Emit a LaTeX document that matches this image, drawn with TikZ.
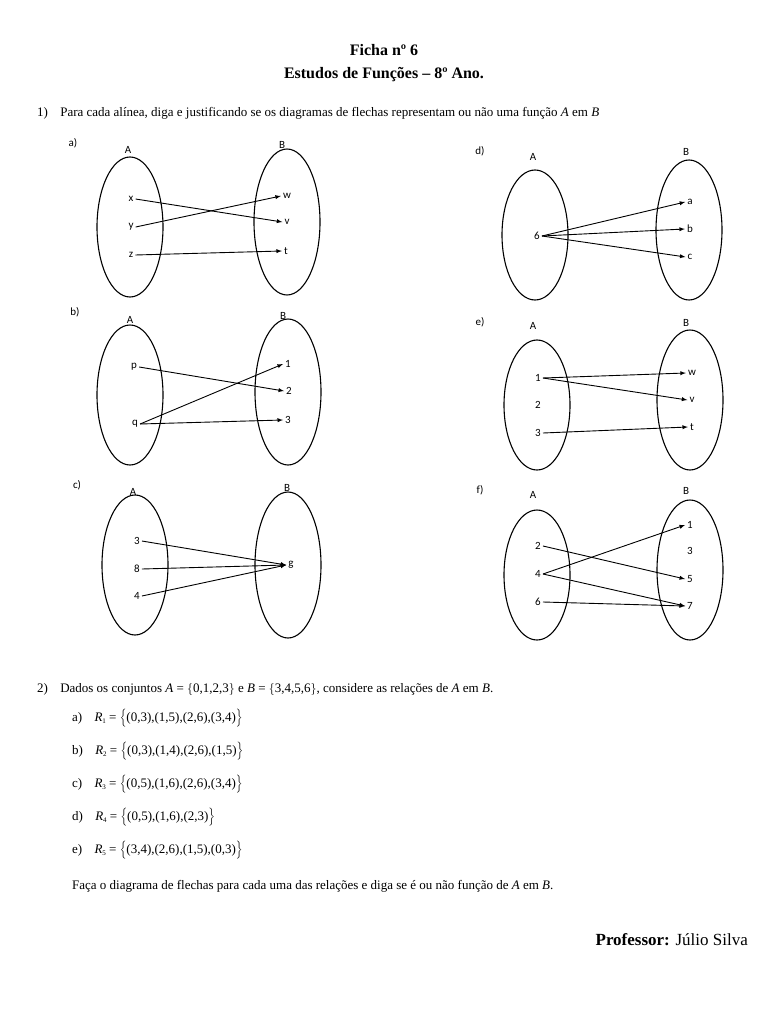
\documentclass[tikz,border=0pt]{standalone}
\usepackage{fontspec}
\setmainfont{Liberation Serif}
\newfontfamily\calfont{Carlito}
\begin{document}
\begin{tikzpicture}[x=1pt,y=-1pt,
  lab/.style={font=\calfont\fontsize{11}{12}\selectfont,inner sep=1pt},
  el/.style={font=\calfont\fontsize{11}{12}\selectfont,inner sep=2pt},
  arr/.style={-latex,line width=0.9pt},
  setline/.style={line width=1.1pt},
  txt/.style={font=\fontsize{13}{15}\selectfont,anchor=west,inner sep=0pt}]
\useasboundingbox[fill=white] (0,0) rectangle (768,1024);
% titles
\node[font=\bfseries\fontsize{16}{18}\selectfont] (t1) at (384,50) {Ficha nº 6};
\node[font=\bfseries\fontsize{16}{18}\selectfont] (t2) at (384,75) {Estudos de Funções – 8º Ano.};
\node[txt] (q1) at (37,113) {1)\hspace{9pt} Para cada alínea, diga e justificando se os diagramas de flechas representam ou não uma função \textit{A} em \textit{B}};
% ---- a
\node[lab] (la) at (73,143) {a)};
\node[lab] (aA) at (128,150) {A}; \node[lab] (aB) at (282,145) {B};
\draw[setline] (130,227) ellipse (33 and 70);
\draw[setline] (287,222) ellipse (33 and 73);
\node[el] (ax) at (131,199) {x}; \node[el] (ay) at (131,227) {y}; \node[el] (az) at (131,255) {z};
\node[el] (aw) at (287,196) {w}; \node[el] (av) at (287,222) {v}; \node[el] (at) at (286,251) {t};
\draw[arr] (ax.east) -- (av.west); \draw[arr] (ay.east) -- (aw.west); \draw[arr] (az.east) -- (at.west);
% ---- b
\node[lab] (lb) at (75,312) {b)};
\node[lab] (bA) at (130,320) {A}; \node[lab] (bB) at (283,316) {B};
\draw[setline] (130,395) ellipse (33 and 70);
\draw[setline] (288,392) ellipse (33 and 73);
\node[el] (bp) at (134,367) {p}; \node[el] (bq) at (135,424) {q};
\node[el] (b1) at (288,364) {1}; \node[el] (b2) at (289,391) {2}; \node[el] (b3) at (288,420) {3};
\draw[arr] (bp.east) -- (b2.west); \draw[arr] (bq.east) -- (b1.west); \draw[arr] (bq.east) -- (b3.west);
% ---- c
\node[lab] (lc) at (77,485) {c)};
\node[lab] (cA) at (133,492) {A}; \node[lab] (cB) at (287,488) {B};
\draw[setline] (135,565) ellipse (33 and 70);
\draw[setline] (288,565) ellipse (33 and 73);
\node[el] (c3) at (137,541) {3}; \node[el] (c8) at (137,569) {8}; \node[el] (c4) at (137,596) {4};
\node[el] (cg) at (291,565) {g};
\draw[arr] (c3.east) -- (cg.west); \draw[arr] (c8.east) -- (cg.west); \draw[arr] (c4.east) -- (cg.west);
% ---- d
\node[lab] (ld) at (480,151) {d)};
\node[lab] (dA) at (533,157) {A}; \node[lab] (dB) at (686,152) {B};
\draw[setline] (535,235) ellipse (33 and 65);
\draw[setline] (689,230) ellipse (33 and 70);
\node[el] (d6) at (537,236) {6};
\node[el] (da) at (690,202) {a}; \node[el] (db) at (690,229) {b}; \node[el] (dc) at (690,257) {c};
\draw[arr] (d6.east) -- (da.west); \draw[arr] (d6.east) -- (db.west); \draw[arr] (d6.east) -- (dc.west);
% ---- e
\node[lab] (le) at (480,322) {e)};
\node[lab] (eA) at (533,326) {A}; \node[lab] (eB) at (686,323) {B};
\draw[setline] (537,405) ellipse (33 and 65);
\draw[setline] (690,400) ellipse (33 and 70);
\node[el] (e1) at (538,378) {1}; \node[el] (e2) at (538,405) {2}; \node[el] (e3) at (538,433) {3};
\node[el] (ew) at (692,373) {w}; \node[el] (ev) at (692,400) {v}; \node[el] (et) at (692,427) {t};
\draw[arr] (e1.east) -- (ew.west); \draw[arr] (e1.east) -- (ev.west); \draw[arr] (e3.east) -- (et.west);
% ---- f
\node[lab] (lf) at (480,490) {f)};
\node[lab] (fA) at (533,495) {A}; \node[lab] (fB) at (686,491) {B};
\draw[setline] (537,575) ellipse (33 and 65);
\draw[setline] (690,570) ellipse (33 and 70);
\node[el] (f2) at (538,546) {2}; \node[el] (f4) at (538,574) {4}; \node[el] (f6) at (538,602) {6};
\node[el] (g1) at (690,525) {1}; \node[el] (g3) at (690,551) {3}; \node[el] (g5) at (690,579) {5}; \node[el] (g7) at (690,606) {7};
\draw[arr] (f4.east) -- (g1.west); \draw[arr] (f2.east) -- (g5.west); \draw[arr] (f4.east) -- (g7.west); \draw[arr] (f6.east) -- (g7.west);
% ---- question 2
\node[txt] (q2) at (37,689) {2)\hspace{9pt} Dados os conjuntos \textit{A} = $\bigl\{$0,1,2,3$\bigr\}$ e \textit{B} = $\bigl\{$3,4,5,6$\bigr\}$, considere as relações de \textit{A} em \textit{B}.};
\node[txt] (r1) at (72,718) {a)\hspace{9pt} \textit{R}\raisebox{-2pt}{\scriptsize 1} = $\Bigl\{$(0,3),(1,5),(2,6),(3,4)$\Bigr\}$};
\node[txt] (r2) at (72,751) {b)\hspace{9pt} \textit{R}\raisebox{-2pt}{\scriptsize 2} = $\Bigl\{$(0,3),(1,4),(2,6),(1,5)$\Bigr\}$};
\node[txt] (r3) at (72,784) {c)\hspace{9pt} \textit{R}\raisebox{-2pt}{\scriptsize 3} = $\Bigl\{$(0,5),(1,6),(2,6),(3,4)$\Bigr\}$};
\node[txt] (r4) at (72,817) {d)\hspace{9pt} \textit{R}\raisebox{-2pt}{\scriptsize 4} = $\Bigl\{$(0,5),(1,6),(2,3)$\Bigr\}$};
\node[txt] (r5) at (72,850) {e)\hspace{9pt} \textit{R}\raisebox{-2pt}{\scriptsize 5} = $\Bigl\{$(3,4),(2,6),(1,5),(0,3)$\Bigr\}$};
\node[txt] (q3) at (72,886) {Faça o diagrama de flechas para cada uma das relações e diga se é ou não função de \textit{A} em \textit{B}.};
\node[font=\fontsize{17}{19}\selectfont,anchor=east,inner sep=0pt] (prof) at (748,940) {\textbf{Professor:} Júlio Silva};
\end{tikzpicture}
\end{document}
